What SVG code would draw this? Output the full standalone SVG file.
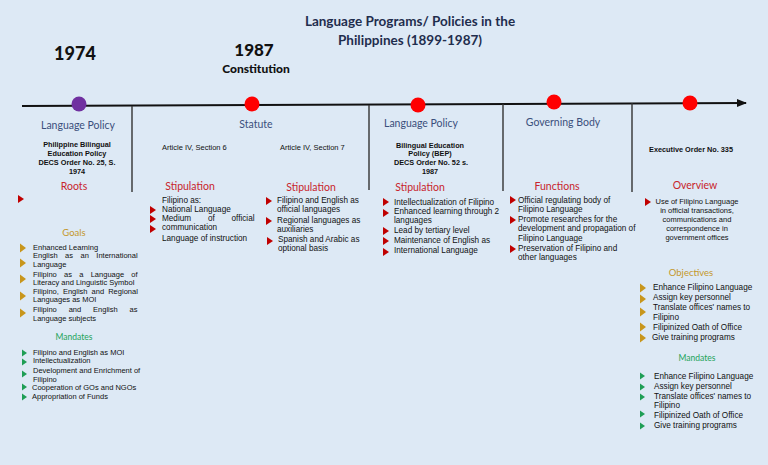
<svg xmlns="http://www.w3.org/2000/svg" width="768" height="465" viewBox="0 0 768 465">
<defs>
<style>
.t{font-family:"Liberation Sans",Arial,sans-serif;font-size:8.2px;fill:#111;}
.s{font-size:7.5px;}
.b{font-weight:bold;font-size:7.3px;}
.c{text-anchor:middle;}
.h{font-family:Lato,"Open Sans",sans-serif;font-size:10.5px;fill:#3b4f7c;text-anchor:middle;}
.red{font-family:Lato,"Open Sans",sans-serif;font-size:10.5px;fill:#c8252c;text-anchor:middle;}
.gold{font-family:Lato,"Open Sans",sans-serif;font-size:9.5px;fill:#c4972a;text-anchor:middle;}
.green{font-family:Lato,"Open Sans",sans-serif;font-size:8.5px;fill:#22a35a;text-anchor:middle;}
.yr{font-family:Lato,"Open Sans",sans-serif;font-weight:900;fill:#111;text-anchor:middle;}
.sep{stroke:#333;stroke-width:1.4;}
</style>
<marker id="ah" viewBox="0 0 10 10" refX="9" refY="5" markerWidth="5" markerHeight="5" orient="auto" markerUnits="strokeWidth"><path d="M0,1 L10,5 L0,9 z" fill="#111"/></marker>
<path id="br" d="M0,-4 L6,0 L0,4 z" fill="#c00000"/>
<path id="bg" d="M0,-4.5 L6,0 L0,4.5 z" fill="#c8961c"/>
<path id="bgr" d="M0,-3.5 L5,0 L0,3.5 z" fill="#1e9e55"/>
</defs>
<rect width="768" height="465" fill="#dde9f5"/>

<g id="title">
<text x="410" y="26" font-family="Lato,'Open Sans',sans-serif" font-size="13.5" font-weight="bold" fill="#1f2d4d" text-anchor="middle">Language Programs/ Policies in the</text>
<text x="410" y="45" font-family="Lato,'Open Sans',sans-serif" font-size="13.5" font-weight="bold" fill="#1f2d4d" text-anchor="middle">Philippines (1899-1987)</text>
</g>

<g id="connectors">
<line x1="22" y1="106" x2="746" y2="103" stroke="#111" stroke-width="2" marker-end="url(#ah)"/>
<line class="sep" x1="132" y1="106" x2="132" y2="192"/>
<line class="sep" x1="369" y1="105" x2="369" y2="190"/>
<line class="sep" x1="503" y1="104" x2="503" y2="191"/>
<line class="sep" x1="632" y1="103" x2="632" y2="192"/>
</g>

<g id="node-1974">
<text class="yr" x="75" y="60" font-size="18">1974</text>
<circle cx="79" cy="104" r="7.5" fill="#7030a0"/>
<text class="h" x="78" y="129">Language Policy</text>
<text class="t b c" x="77" y="147">Philippine Bilingual</text>
<text class="t b c" x="77" y="156">Education Policy</text>
<text class="t b c" x="77" y="165">DECS Order No. 25, S.</text>
<text class="t b c" x="77" y="174">1974</text>
<text class="red" x="74" y="190">Roots</text>
<use href="#br" x="18" y="199"/>
<text class="gold" x="74" y="236">Goals</text>
<use href="#bg" x="20" y="248"/>
<use href="#bg" x="20" y="263"/>
<use href="#bg" x="20" y="279"/>
<use href="#bg" x="20" y="296"/>
<use href="#bg" x="20" y="313"/>
<text class="t s" x="33" y="250">Enhanced Learning</text>
<text class="t s" x="33" y="258" word-spacing="5.4">English as an International</text>
<text class="t s" x="33" y="267">Language</text>
<text class="t s" x="33" y="277" word-spacing="5.2">Filipino as a Language of</text>
<text class="t s" x="33" y="285">Literacy and Linguistic Symbol</text>
<text class="t s" x="33" y="294" word-spacing="2">Filipino, English and Regional</text>
<text class="t s" x="33" y="302">Languages as MOI</text>
<text class="t s" x="33" y="312" word-spacing="9.8">Filipino and English as</text>
<text class="t s" x="33" y="321">Language subjects</text>
<text class="green" x="74" y="340">Mandates</text>
<use href="#bgr" x="22" y="353"/>
<use href="#bgr" x="22" y="362"/>
<use href="#bgr" x="22" y="374"/>
<use href="#bgr" x="22" y="387"/>
<use href="#bgr" x="22" y="397"/>
<text class="t s" x="33" y="355">Filipino and English as MOI</text>
<text class="t s" x="33" y="363">Intellectualization</text>
<text class="t s" x="33" y="373">Development and Enrichment of</text>
<text class="t s" x="33" y="382">Filipino</text>
<text class="t s" x="32" y="390">Cooperation of GOs and NGOs</text>
<text class="t s" x="32" y="399">Appropriation of Funds</text>
</g>

<g id="node-1987-constitution">
<text class="yr" x="254" y="56" font-size="17">1987</text>
<text class="yr" x="256" y="73" font-size="12">Constitution</text>
<circle cx="252" cy="104" r="7.5" fill="#ff0000"/>
<text class="h" x="256" y="128">Statute</text>
<text class="t s" x="162" y="150">Article IV, Section 6</text>
<text class="t s" x="280" y="150">Article IV, Section 7</text>
<text class="red" x="190" y="190">Stipulation</text>
<text class="red" x="311" y="191">Stipulation</text>
<use href="#br" x="150" y="210"/>
<use href="#br" x="150" y="219"/>
<use href="#br" x="150" y="229"/>
<text class="t" x="162" y="203">Filipino as:</text>
<text class="t" x="162" y="212">National Language</text>
<text class="t" x="162" y="221" word-spacing="14.5">Medium of official</text>
<text class="t" x="162" y="230">communication</text>
<text class="t" x="162" y="241">Language of instruction</text>
<use href="#br" x="266" y="201"/>
<use href="#br" x="266" y="221"/>
<use href="#br" x="267" y="241"/>
<text class="t" x="277" y="203">Filipino and English as</text>
<text class="t" x="277" y="212">official languages</text>
<text class="t" x="277" y="223">Regional languages as</text>
<text class="t" x="277" y="232">auxiliaries</text>
<text class="t" x="278" y="242">Spanish and Arabic as</text>
<text class="t" x="278" y="251">optional basis</text>
</g>

<g id="node-1987-bep">
<circle cx="418" cy="105" r="7.5" fill="#ff0000"/>
<text class="h" x="421" y="127">Language Policy</text>
<text class="t b c" x="430" y="148">Bilingual Education</text>
<text class="t b c" x="430" y="156">Policy (BEP)</text>
<text class="t b c" x="431" y="165">DECS Order No. 52 s.</text>
<text class="t b c" x="430" y="174">1987</text>
<text class="red" x="420" y="191">Stipulation</text>
<use href="#br" x="383" y="202"/>
<use href="#br" x="383" y="213"/>
<use href="#br" x="383" y="231"/>
<use href="#br" x="383" y="241"/>
<use href="#br" x="383" y="252"/>
<text class="t" x="394" y="205">Intellectualization of Filipino</text>
<text class="t" x="394" y="214">Enhanced learning through 2</text>
<text class="t" x="394" y="223">languages</text>
<text class="t" x="394" y="233">Lead by tertiary level</text>
<text class="t" x="394" y="243">Maintenance of English as</text>
<text class="t" x="394" y="253">International Language</text>
</g>

<g id="node-governing-body">
<circle cx="554" cy="102" r="7.5" fill="#ff0000"/>
<text class="h" x="563" y="126">Governing Body</text>
<text class="red" x="557" y="190">Functions</text>
<use href="#br" x="510" y="200"/>
<use href="#br" x="510" y="220"/>
<use href="#br" x="510" y="249"/>
<text class="t" x="518" y="203">Official regulating body of</text>
<text class="t" x="518" y="212">Filipino Language</text>
<text class="t" x="518" y="222">Promote researches for the</text>
<text class="t" x="518" y="231">development and propagation of</text>
<text class="t" x="518" y="241">Filipino Language</text>
<text class="t" x="518" y="251">Preservation of Filipino and</text>
<text class="t" x="518" y="260">other languages</text>
</g>

<g id="node-eo335">
<circle cx="690" cy="103" r="7.5" fill="#ff0000"/>
<text class="t b c" x="691" y="152">Executive Order No. 335</text>
<text class="red" x="695" y="189">Overview</text>
<use href="#br" x="645" y="202"/>
<text class="t s c" x="697" y="204">Use of Filipino Language</text>
<text class="t s c" x="697" y="213">in official transactions,</text>
<text class="t s c" x="697" y="222">communications and</text>
<text class="t s c" x="697" y="231">correspondence in</text>
<text class="t s c" x="697" y="240">government offices</text>
<text class="gold" x="691" y="276">Objectives</text>
<use href="#bg" x="640" y="288"/>
<use href="#bg" x="640" y="299"/>
<use href="#bg" x="640" y="312"/>
<use href="#bg" x="640" y="327"/>
<use href="#bg" x="640" y="338"/>
<text class="t" x="653" y="290">Enhance Filipino Language</text>
<text class="t" x="653" y="300">Assign key personnel</text>
<text class="t" x="653" y="310">Translate offices' names to</text>
<text class="t" x="653" y="320">Filipino</text>
<text class="t" x="653" y="330">Filipinized Oath of Office</text>
<text class="t" x="652" y="340">Give training programs</text>
<text class="green" x="697" y="361">Mandates</text>
<use href="#bgr" x="640" y="376"/>
<use href="#bgr" x="640" y="387"/>
<use href="#bgr" x="640" y="397"/>
<use href="#bgr" x="640" y="414"/>
<use href="#bgr" x="640" y="426"/>
<text class="t" x="654" y="379">Enhance Filipino Language</text>
<text class="t" x="654" y="389">Assign key personnel</text>
<text class="t" x="654" y="399">Translate offices' names to</text>
<text class="t" x="654" y="408">Filipino</text>
<text class="t" x="654" y="418">Filipinized Oath of Office</text>
<text class="t" x="654" y="428">Give training programs</text>
</g>
</svg>
